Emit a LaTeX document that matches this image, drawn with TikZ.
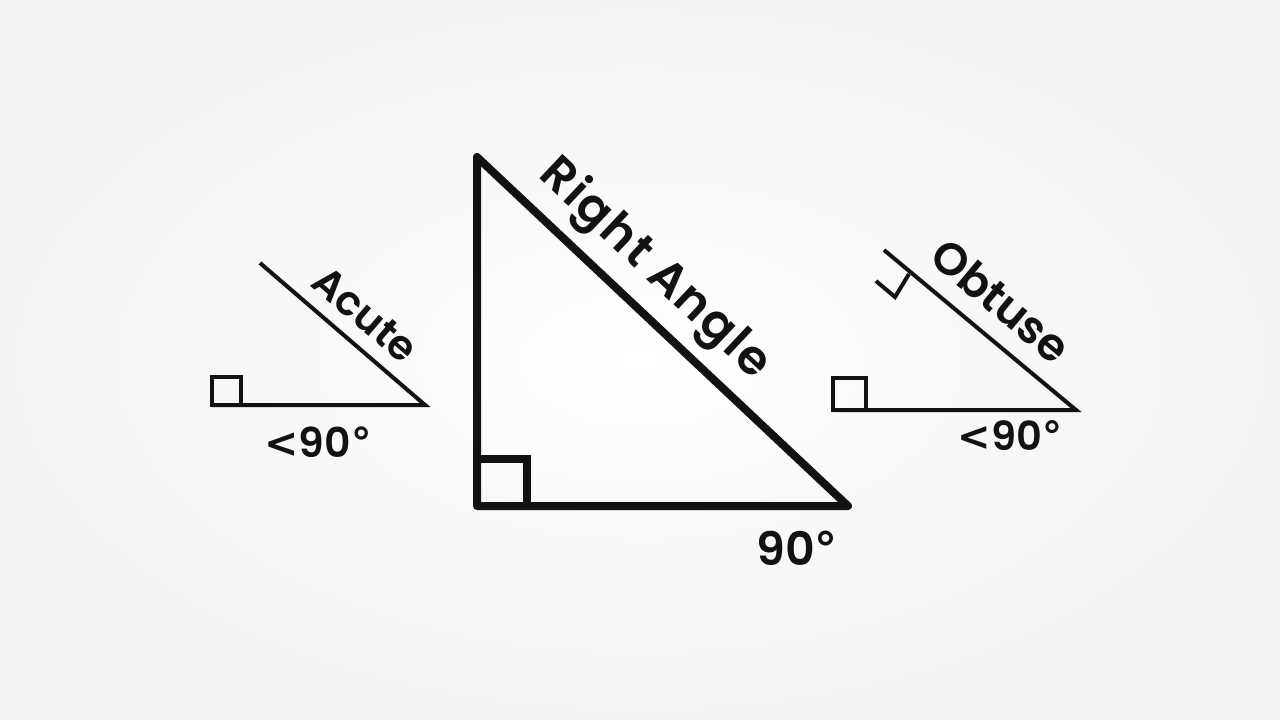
\documentclass[tikz,border=0pt]{standalone}
\usepackage{fontspec}
\setmainfont{Poppins}[BoldFont = * SemiBold]
\newfontfamily\symfont{DejaVu Sans}
\newcommand{\lt}{{\symfont <}}
\newcommand{\dg}{{\symfont °}}
\begin{document}
\begin{tikzpicture}[x=1pt,y=-1pt,
  edge/.style={line width=#1, draw=black!93, line cap=butt, line join=miter},
  lbl/.style={font=\fontsize{#1}{#1}\selectfont\bfseries, text=black!93, inner sep=0pt}]
\useasboundingbox (0,0) rectangle (1280,720);
\fill[inner color=white, outer color=black!5] (0,0) rectangle (1280,720);
% big right triangle
\coordinate (T) at (477,157);
\coordinate (L) at (477,506);
\coordinate (R) at (848,506);
\draw[edge=8pt, line join=round] (T) -- (L) -- (R) -- cycle;
\draw[edge=7.5pt] (477,459) -- (527,459) -- (527,506);
\path (T) -- (R) node[lbl=48, pos=0.405, sloped, above=14pt] (rt) {\addfontfeature{LetterSpace=4}Right Angle};
\node[lbl=46, anchor=base] (n90) at (797,565) {90\dg};
% acute
\coordinate (A1) at (260,263);
\coordinate (A2) at (425,405);
\coordinate (A0) at (212,405);
\draw[edge=4pt] (A1) -- (A2) -- (A0);
\draw[edge=4pt] (A0) rectangle (241,377);
\path (A1) -- (A2) node[lbl=41, pos=0.52, sloped, above=15pt] (ac) {Acute};
\node[lbl=41, anchor=base] (a90) at (318,457) {\lt90\dg};
% obtuse
\coordinate (O1) at (884,250);
\coordinate (O2) at (1076,410);
\coordinate (O0) at (833,410);
\draw[edge=4pt] (O1) -- (O2) -- (O0);
\draw[edge=4pt] (O0) rectangle (866,378);
\draw[edge=4pt] (909,274) -- (895,297) -- (876,281);
\path (O1) -- (O2) node[lbl=45, pos=0.49, sloped, above=19pt] (ob) {Obtuse};
\node[lbl=40, anchor=base] (o90) at (1010,450) {\lt90\dg};
\end{tikzpicture}
\end{document}
